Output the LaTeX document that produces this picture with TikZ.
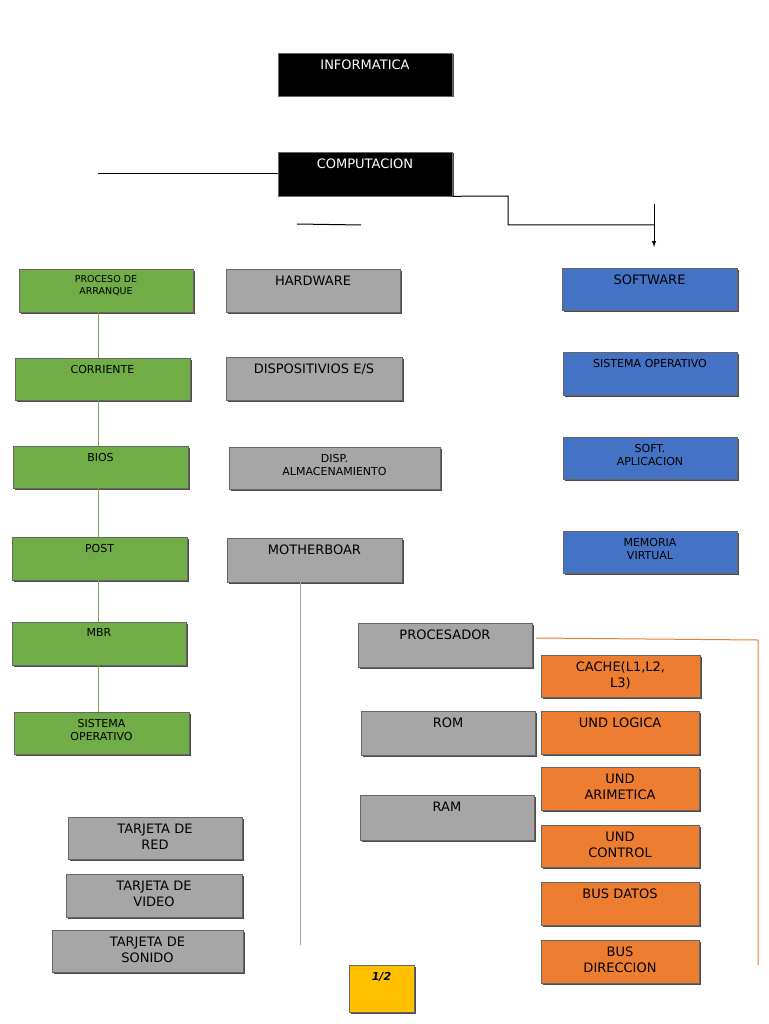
\documentclass[tikz,border=0pt]{standalone}
\usepackage{fontspec}
\setmainfont{DejaVu Sans}
\definecolor{cg}{RGB}{112,173,71}
\definecolor{cb}{RGB}{68,114,196}
\definecolor{co}{RGB}{237,125,49}
\definecolor{cy}{RGB}{166,166,166}
\definecolor{cyl}{RGB}{255,192,0}
\begin{document}
\begin{tikzpicture}[x=1pt,y=-1pt,
  box/.style={draw=black!60,line width=0.6pt,inner sep=0pt},
  gr/.style={box,fill=cg},
  bl/.style={box,fill=cb},
  og/.style={box,fill=co},
  gy/.style={box,fill=cy},
  bk/.style={box,fill=black},
  yl/.style={box,fill=cyl},
  lbl/.style={anchor=north,align=center,inner sep=0pt,font=\fontsize{13}{16}\selectfont},
  sm/.style={lbl,font=\fontsize{11}{13}\selectfont},
  tn/.style={lbl,font=\fontsize{9.5}{11.5}\selectfont},
  ln/.style={line width=1pt}]
\useasboundingbox (0,0) rectangle (768,1024);
\fill[white] (0,0) rectangle (768,1024);
\newcommand\bx[8][lbl]{%
  \pgfmathsetmacro\bw{#5-#3}\pgfmathsetmacro\bh{#6-#4}%
  \fill[black!70] (#3+1.5,#4+1.5) rectangle (#5+1.5,#6+1.5);
  \node[#7,minimum width=\bw pt,minimum height=\bh pt] (#2) at ({(#3+#5)/2},{(#4+#6)/2}) {};
  \begin{scope}\clip (#2.south west) rectangle (#2.north east);
  \node[#1,text width=\bw pt-6pt] at ([yshift=-7pt]#2.north) {#8};
  \end{scope}}
\bx{inf}{278}{53}{452}{96}{bk}{\color{white}INFORMATICA}
\bx{comp}{278}{152}{452}{196}{bk}{\color{white}COMPUTACION}
\coordinate (l1) at (98,174);
\draw[ln] (l1) -- (comp.west);
\coordinate (s1) at (297,224); \coordinate (s2) at (361,225);
\draw[ln] (s1) -- (s2);
\coordinate (c1) at (508,196); \coordinate (c2) at (508,225); \coordinate (c3) at (654,225);
\coordinate (a1) at (654,204); \coordinate (a2) at (654,247);
\draw[ln] (comp.south east) -- (c1) -- (c2) -- (c3);
\draw[ln,-latex] (a1) -- (a2);

\bx[tn]{pa}{19}{269}{193}{312}{gr}{PROCESO DE\\ARRANQUE}
\bx{hw}{226}{269}{400}{312}{gy}{HARDWARE}
\bx{sw}{562}{268}{737}{310}{bl}{SOFTWARE}
\bx[sm]{cor}{15}{358}{190}{400}{gr}{CORRIENTE}
\bx{dis}{226}{357}{402}{400}{gy}{\raggedright DISPOSITIVIOS E/S}
\bx[sm]{so}{563}{352}{737}{395}{bl}{SISTEMA OPERATIVO}
\bx[sm]{bios}{13}{446}{188}{488}{gr}{BIOS}
\bx[sm]{alm}{229}{447}{440}{489}{gy}{DISP.\\ALMACENAMIENTO}
\bx[sm]{apl}{563}{437}{737}{479}{bl}{SOFT.\\APLICACION}
\bx[sm]{post}{12}{537}{187}{580}{gr}{POST}
\bx{mb}{227}{538}{402}{582}{gy}{MOTHERBOAR}
\bx[sm]{mv}{563}{531}{737}{573}{bl}{MEMORIA\\VIRTUAL}
\bx[sm]{mbr}{12}{622}{186}{665}{gr}{MBR}
\bx{proc}{358}{623}{532}{667}{gy}{PROCESADOR}
\bx{cache}{541}{655}{700}{697}{og}{CACHE(L1,L2,\\L3)}
\bx{rom}{361}{711}{535}{755}{gy}{ROM}
\bx{ul}{541}{711}{699}{754}{og}{UND LOGICA}
\bx[sm]{so2}{14}{712}{189}{754}{gr}{SISTEMA\\OPERATIVO}
\bx{ua}{541}{767}{699}{810}{og}{UND\\ARIMETICA}
\bx{ram}{360}{795}{534}{840}{gy}{RAM}
\bx{uc}{541}{825}{699}{867}{og}{UND\\CONTROL}
\bx{red}{68}{817}{242}{859}{gy}{TARJETA DE\\RED}
\bx{bd}{541}{882}{699}{925}{og}{BUS DATOS}
\bx{vid}{66}{874}{242}{917}{gy}{TARJETA DE\\VIDEO}
\bx{son}{52}{930}{243}{972}{gy}{TARJETA DE\\SONIDO}
\bx{bdir}{541}{940}{699}{983}{og}{BUS\\DIRECCION}
\bx[sm]{pg}{349}{965}{414}{1012}{yl}{\bfseries\itshape 1/2}

\coordinate (gx) at (98,0);
\draw[line width=1pt,cg]
  (pa.south-|gx) -- (cor.north-|gx) (cor.south-|gx) -- (bios.north-|gx)
  (bios.south-|gx) -- (post.north-|gx) (post.south-|gx) -- (mbr.north-|gx)
  (mbr.south-|gx) -- (so2.north-|gx);
\coordinate (g2) at (300,945);
\draw[line width=1pt,black!35] (mb.south-|g2) -- (g2);
\coordinate (o1) at (536,638); \coordinate (o2) at (758,640); \coordinate (o3) at (758,965);
\draw[line width=1pt,co] (o1) -- (o2) -- (o3);
\end{tikzpicture}
\end{document}
